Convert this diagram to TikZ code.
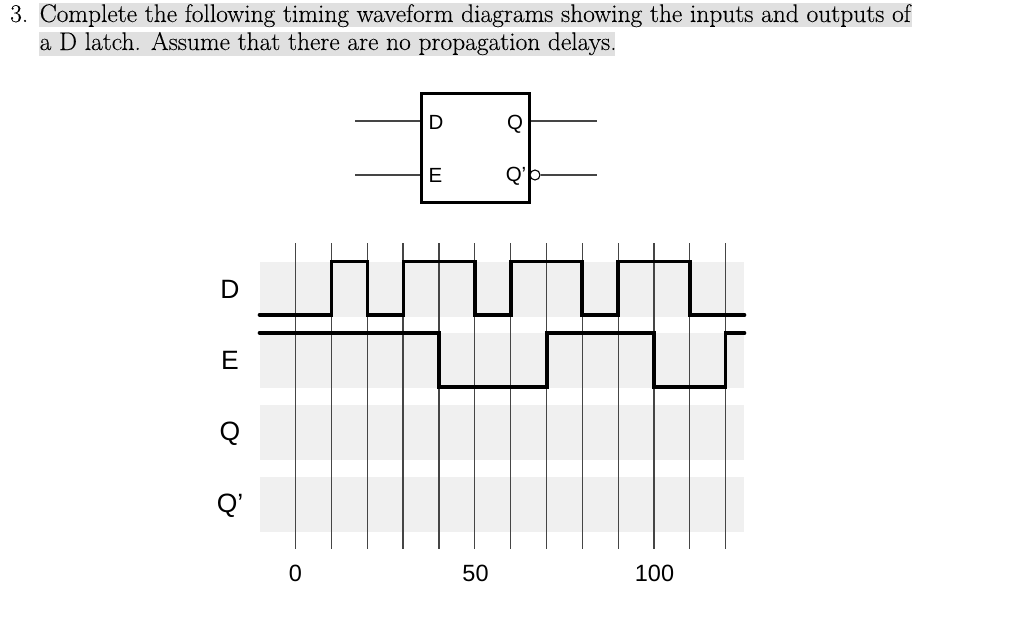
\documentclass[tikz,border=0pt]{standalone}
\usepackage{fontspec}
\newfontfamily\labelfont{Liberation Sans}
\newfontfamily\titlefont{Latin Modern Roman}[BoldFont={Latin Modern Roman},BoldFeatures={FakeBold=0.18}]
\definecolor{markgray}{HTML}{E0E0E0}
\definecolor{bandgray}{HTML}{F0F0F0}
\definecolor{gridgray}{HTML}{454545}
\tikzset{%
  title line/.style={anchor=base west, inner sep=0pt, font=\titlefont\bfseries\fontsize{25.45}{28}\selectfont},
  latch box/.style={draw, line width=2.8pt, minimum width=108.5pt, minimum height=108.5pt, inner sep=0pt},
  pin label/.style={inner sep=0pt, font=\labelfont\fontsize{20.5}{22}\selectfont},
  pin wire/.style={line width=1.2pt, draw=gridgray},
  bubble/.style={draw, line width=1.1pt, circle, fill=white, minimum width=10pt, inner sep=0pt},
  band/.style={fill=bandgray},
  grid line/.style={line width=1.2pt, draw=gridgray},
  wave/.style={line width=3.6pt, line cap=round, line join=miter},
  row label/.style={inner sep=0pt, font=\labelfont\fontsize{26.5}{28}\selectfont},
  tick label/.style={inner sep=0pt, font=\labelfont\fontsize{23.5}{26}\selectfont},
}
\begin{document}
\begin{tikzpicture}[x=1pt,y=-1pt]
  \useasboundingbox (0,0) rectangle (1024,618);
  % marked question text
  \fill [markgray] (39,3) rectangle (912,27);
  \fill [markgray] (39,32) rectangle (615,56);
  \node (num) [title line] at (10,22) {3.};
  \node (lineA) [title line] at (39.5,22) {Complete the following timing waveform diagrams showing the inputs and outputs of};
  \node (lineB) [title line] at (39.5,50) {a D latch. Assume that there are no propagation delays.};
  % latch
  \node (latch) [latch box] at (475.5,148) {};
  \node (pinD) [pin label] at (436,122) {D};
  \node (pinE) [pin label] at (435.5,175) {E};
  \node (pinQ) [pin label] at (515,124) {Q};
  \node (pinNQ) [pin label] at (516,176) {Q’};
  \node (notQ) [bubble] at (535,175) {};
  \coordinate (inD) at (355,121);
  \coordinate (inE) at (355,175);
  \coordinate (outQ) at (597,121);
  \coordinate (outNQ) at (597,175);
  \draw [pin wire] (inD) -- (inD -| latch.west);
  \draw [pin wire] (inE) -- (inE -| latch.west);
  \draw [pin wire] (outQ -| latch.east) -- (outQ);
  \draw [pin wire] (notQ) -- (outNQ);
  % rows
  \foreach \y/\name/\txt/\dy in {262/D/D/27, 333/E/E/27, 405/Q/Q/29, 477/NQ/Q’/29} {
    \fill [band] (260,\y) rectangle (744,\y+54.5);
    \node (row\name) [row label] at (230,\y+\dy) {\txt};
  }
  % time lines
  \foreach \i in {0,...,12} {
    \draw [grid line] (295.5+\i*35.85,243) -- (295.5+\i*35.85,549);
  }
  \node (tickA) [tick label] at (295.5,573) {0};
  \node (tickB) [tick label] at (475.5,573) {50};
  \node (tickC) [tick label] at (654.5,573) {100};
  % inputs
  \draw [wave] (259.5,315) -- (331.5,315) -- (331.5,261.5) -- (367.5,261.5) -- (367.5,315)
    -- (403.5,315) -- (403.5,261.5) -- (475,261.5) -- (475,315) -- (511,315)
    -- (511,261.5) -- (582,261.5) -- (582,315) -- (618,315) -- (618,261.5)
    -- (690,261.5) -- (690,315) -- (744.5,315);
  \draw [wave] (259.5,333) -- (439,333) -- (439,387) -- (547,387) -- (547,333)
    -- (654,333) -- (654,387) -- (725.5,387) -- (725.5,333) -- (744.5,333);
\end{tikzpicture}
\end{document}
